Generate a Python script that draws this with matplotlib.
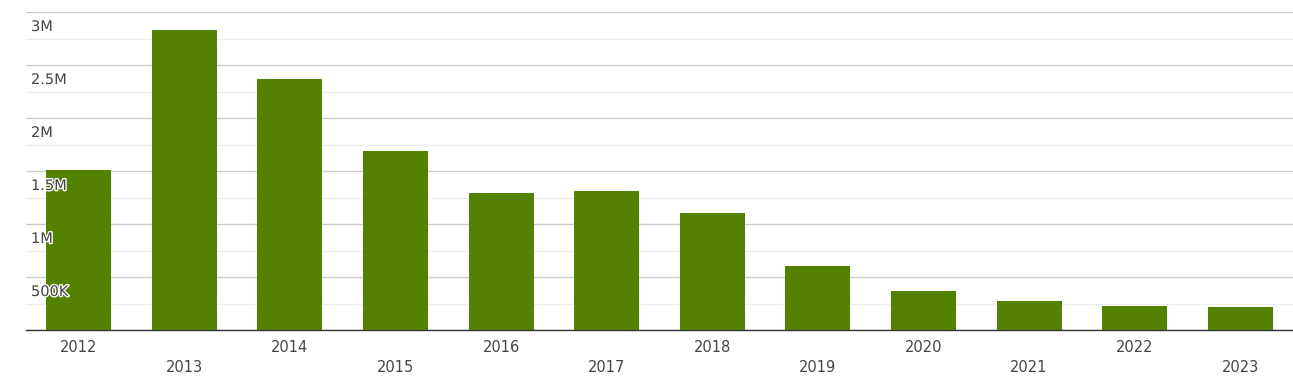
import matplotlib
matplotlib.use("Agg")
import matplotlib.pyplot as plt
import matplotlib.patheffects as pe
from matplotlib.ticker import MultipleLocator

YEARS = ["2012", "2013", "2014", "2015", "2016", "2017",
         "2018", "2019", "2020", "2021", "2022", "2023"]
VALUES = [1510000, 2830000, 2368000, 1690000, 1292000, 1311000,
          1104000, 604000, 368000, 274000, 226000, 217000]
Y_TICKS = [500000, 1000000, 1500000, 2000000, 2500000, 3000000]
Y_LABELS = ["500K", "1M", "1.5M", "2M", "2.5M", "3M"]

BAR_COLOR = "#548200"
TEXT_COLOR = "#444444"

fig = plt.figure(figsize=(12.93, 3.84), dpi=100)
ax = fig.add_axes([26 / 1293, 54 / 384, 1 - 26 / 1293, 318 / 384])

x = range(len(YEARS))
ax.bar(x, VALUES, width=0.615, color=BAR_COLOR, zorder=2)

ax.set_xlim(-0.5, len(YEARS) - 0.5)
ax.set_ylim(0, 3000000)

# grid: major every 500K, minor in between
ax.yaxis.set_major_locator(MultipleLocator(500000))
ax.yaxis.set_minor_locator(MultipleLocator(250000))
ax.grid(axis="y", which="major", color="#cccccc", linewidth=1, zorder=0)
ax.grid(axis="y", which="minor", color="#eeeeee", linewidth=1, zorder=0)
ax.tick_params(axis="y", which="both", left=False, labelleft=False)

for s in ["top", "right", "left"]:
    ax.spines[s].set_visible(False)
ax.spines["bottom"].set_color("#333333")
ax.spines["bottom"].set_linewidth(1)

# y labels drawn inside the plot, just below each gridline
for v, lab in zip(Y_TICKS, Y_LABELS):
    ax.annotate(lab, xy=(0, v), xycoords=("axes fraction", "data"),
                xytext=(5, -7), textcoords="offset pixels",
                ha="left", va="top", fontsize=10.5, color=TEXT_COLOR, zorder=3,
                path_effects=[pe.withStroke(linewidth=2, foreground="white")])

# staggered x labels
ax.set_xticks(list(x))
ax.set_xticklabels([])
ax.tick_params(axis="x", length=0)
for i, yr in enumerate(YEARS):
    off = -25 if i % 2 == 0 else -45
    ax.annotate(yr, xy=(i, 0), xycoords=("data", "axes fraction"),
                xytext=(0, off), textcoords="offset pixels",
                ha="center", va="bottom", fontsize=10.5, color=TEXT_COLOR)

fig.savefig("out.png", dpi=100)
